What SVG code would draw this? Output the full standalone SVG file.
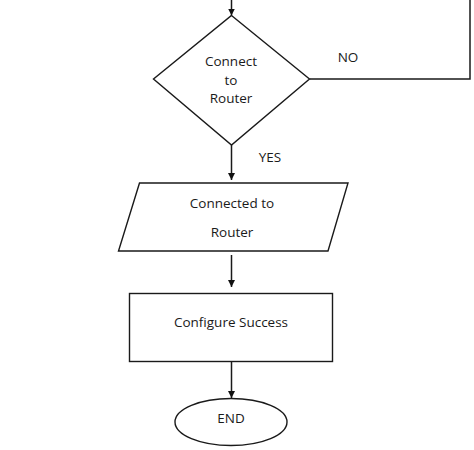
<svg xmlns="http://www.w3.org/2000/svg" width="474" height="450" viewBox="0 0 474 450">
<defs>
<marker id="arr" viewBox="0 0 10 10" refX="10" refY="5" markerWidth="7" markerHeight="9" markerUnits="userSpaceOnUse" orient="auto">
<path d="M0,0 L10,5 L0,10 z" fill="#111"/>
</marker>
</defs>
<style>
.shape{fill:#fff;stroke:#1a1a1a;stroke-width:1.4}
.conn{fill:none;stroke:#1a1a1a;stroke-width:1.5}
text{font-family:"Open Sans","Liberation Sans",sans-serif;font-size:13.5px;fill:#1a1a1a;text-anchor:middle}
</style>
<rect width="474" height="450" fill="#fff"/>
<g id="connectors">
<line class="conn" x1="231.5" y1="0" x2="231.5" y2="15.5" marker-end="url(#arr)"/>
<polyline class="conn" points="309.5,79 470,79 470,0"/>
<line class="conn" x1="231.5" y1="145" x2="231.5" y2="180" marker-end="url(#arr)"/>
<line class="conn" x1="231.5" y1="255" x2="231.5" y2="287" marker-end="url(#arr)"/>
<line class="conn" x1="231.5" y1="362" x2="231.5" y2="398" marker-end="url(#arr)"/>
<text x="348" y="61.5">NO</text>
<text x="270" y="161.5">YES</text>
</g>
<g id="decision">
<polygon class="shape" points="231.5,15.5 309.5,79 231.5,145 153.5,79"/>
<text x="231" y="65.5">Connect</text>
<text x="231" y="84.5">to</text>
<text x="231" y="102.5">Router</text>
</g>
<g id="connected">
<polygon class="shape" points="139.5,183 348,183 328,251 118.5,251"/>
<text x="232" y="208">Connected to</text>
<text x="232" y="236.5">Router</text>
</g>
<g id="configure">
<rect class="shape" x="129.5" y="293.5" width="203" height="68"/>
<text x="231" y="327">Configure Success</text>
</g>
<g id="end">
<ellipse class="shape" cx="231" cy="422" rx="56" ry="23.5"/>
<text x="231" y="423">END</text>
</g>
</svg>
